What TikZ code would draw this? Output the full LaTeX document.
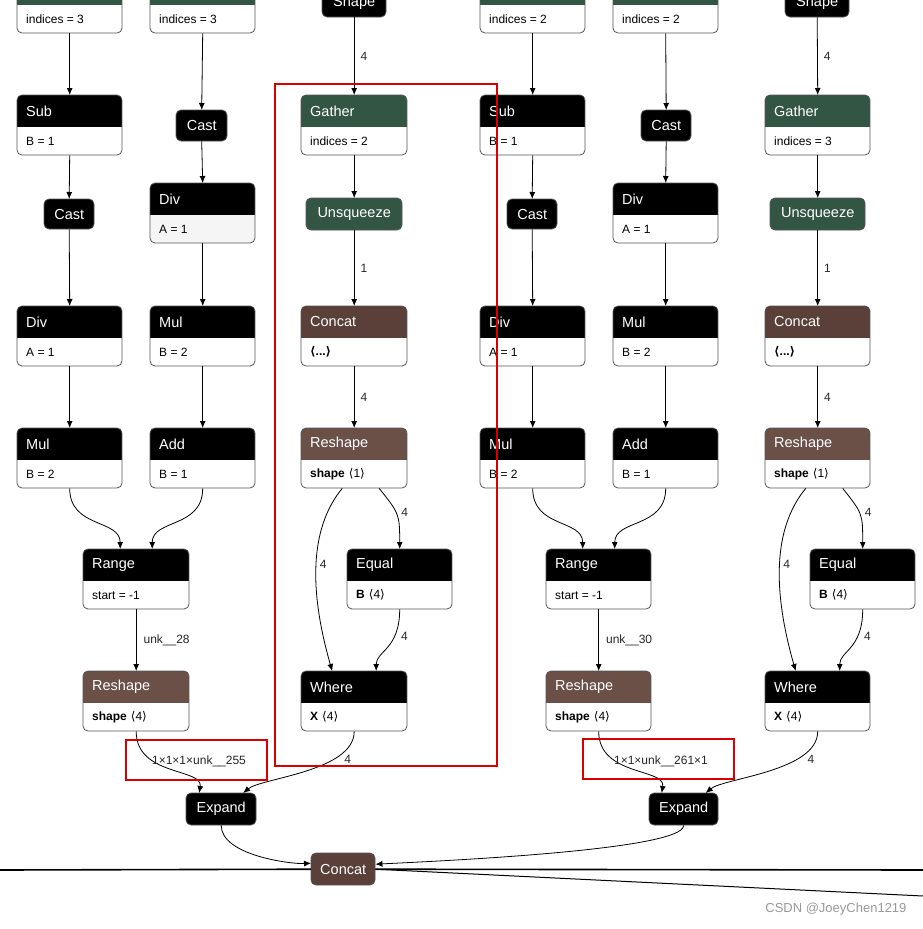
\documentclass[tikz,border=0pt]{standalone}
\usepackage{fontspec}
\setmainfont{Liberation Sans}
\newfontfamily\djv{DejaVu Sans}
\usetikzlibrary{arrows.meta}
\definecolor{ngreen}{HTML}{335544}
\definecolor{nbrown}{HTML}{6B5048}
\definecolor{cbrown}{HTML}{5A4039}
\definecolor{nedge}{HTML}{555555}
\newcommand{\la}{{\djv ⟨}}
\newcommand{\ra}{{\djv ⟩}}
\tikzset{
  ttl/.style={font=\fontsize{14.5}{16}\selectfont,text=white,anchor=west,inner sep=0},
  bdy/.style={font=\fontsize{12}{14}\selectfont,anchor=west,inner sep=0},
  arr/.style={-{Latex[length=7pt,width=6pt]},line width=0.8pt},
  lbl/.style={font=\fontsize{12}{14}\selectfont,text=black!85,inner sep=1pt},
  redbox/.style={draw=red!85!black,line width=1.2pt},
}
% name, xleft, ytop, width, color, title, body, bodyfill
\newcommand{\nnode}[8]{%
  \begin{scope}
    \clip[rounded corners=5] (#2,#3) rectangle (#2+#4,#3+60);
    \fill[#8] (#2,#3) rectangle (#2+#4,#3+60);
    \fill[#5] (#2,#3) rectangle (#2+#4,#3+32);
  \end{scope}
  \draw[nedge,line width=0.8pt,rounded corners=5] (#2,#3) rectangle (#2+#4,#3+60);
  \node[inner sep=0,minimum width=#4pt,minimum height=60pt,anchor=north west] (#1) at (#2,#3) {};
  \node[ttl] at (#2+9,#3+16) {#6};
  \node[bdy] at (#2+9,#3+46) {#7};
}
% small node: name, xleft, ytop, width, height, color, title
\newcommand{\snode}[7]{%
  \fill[#6,rounded corners=5] (#2,#3) rectangle (#2+#4,#3+#5);
  \draw[nedge,line width=0.8pt,rounded corners=5] (#2,#3) rectangle (#2+#4,#3+#5);
  \node[inner sep=0,minimum width=#4pt,minimum height=#5pt,anchor=north west] (#1) at (#2,#3) {};
  \node[ttl,anchor=center] at (#1.center) {#7};
}
\begin{document}
\begin{tikzpicture}[x=1pt,y=-1pt]
\useasboundingbox (0,0) rectangle (923,929);
\clip (0,0) rectangle (923,929);
\fill[white] (0,0) rectangle (923,929);

% column 1
\nnode{ga1}{17}{-27}{105}{ngreen}{Gather}{indices = 3}{white}
\nnode{sub1}{17}{95}{105}{black}{Sub}{B = 1}{white}
\snode{cast1}{44}{199}{50}{30}{black}{Cast}
\nnode{div1}{17}{306}{105}{black}{Div}{A = 1}{white}
\nnode{mul1}{17}{428}{105}{black}{Mul}{B = 2}{white}
% column 2
\nnode{ga2}{150}{-27}{105}{ngreen}{Gather}{indices = 3}{white}
\snode{cast2}{176}{110}{51}{31}{black}{Cast}
\nnode{div2}{150}{183}{105}{black}{Div}{A = 1}{black!4}
\nnode{mul2}{150}{306}{105}{black}{Mul}{B = 2}{white}
\nnode{add1}{150}{428}{105}{black}{Add}{B = 1}{white}
\nnode{range1}{83}{549}{106}{black}{Range}{start = -1}{white}
\nnode{resh1}{83}{671}{106}{nbrown}{Reshape}{\textbf{shape}\,\,\la 4\ra}{white}
\snode{exp1}{186}{793}{70}{32}{black}{Expand}
% column 3
\snode{shape1}{322}{-12}{64}{29}{black}{Shape}
\nnode{gat3}{301}{95}{106}{ngreen}{Gather}{indices = 2}{white}
\snode{unsq1}{306}{198}{96}{32}{ngreen}{Unsqueeze}
\nnode{cc1}{301}{306}{106}{cbrown}{Concat}{\textbf{\la...\ra}}{white}
\nnode{rs3}{301}{428}{106}{nbrown}{Reshape}{\textbf{shape}\,\,\la 1\ra}{white}
\nnode{eq1}{347}{549}{105}{black}{Equal}{\textbf{B}\,\,\la 4\ra}{white}
\nnode{wh1}{301}{671}{106}{black}{Where}{\textbf{X}\,\,\la 4\ra}{white}
% column 4
\nnode{ga4}{480}{-27}{105}{ngreen}{Gather}{indices = 2}{white}
\nnode{sub2}{480}{95}{105}{black}{Sub}{B = 1}{white}
\snode{cast3}{507}{199}{50}{30}{black}{Cast}
\nnode{div3}{480}{306}{105}{black}{Div}{A = 1}{white}
\nnode{mul3}{480}{428}{105}{black}{Mul}{B = 2}{white}
% column 5
\nnode{ga5}{613}{-27}{105}{ngreen}{Gather}{indices = 2}{white}
\snode{cast4}{641}{110}{50}{31}{black}{Cast}
\nnode{div4}{613}{183}{105}{black}{Div}{A = 1}{white}
\nnode{mul4}{613}{306}{105}{black}{Mul}{B = 2}{white}
\nnode{add2}{613}{428}{105}{black}{Add}{B = 1}{white}
\nnode{range2}{546}{549}{105}{black}{Range}{start = -1}{white}
\nnode{resh2}{546}{671}{105}{nbrown}{Reshape}{\textbf{shape}\,\,\la 4\ra}{white}
\snode{exp2}{649}{793}{69}{32}{black}{Expand}
% column 6
\snode{shape2}{785}{-12}{64}{29}{black}{Shape}
\nnode{gat6}{765}{95}{105}{ngreen}{Gather}{indices = 3}{white}
\snode{unsq2}{770}{198}{95}{32}{ngreen}{Unsqueeze}
\nnode{cc2}{765}{306}{105}{cbrown}{Concat}{\textbf{\la...\ra}}{white}
\nnode{rs6}{765}{428}{105}{nbrown}{Reshape}{\textbf{shape}\,\,\la 1\ra}{white}
\nnode{eq2}{810}{549}{105}{black}{Equal}{\textbf{B}\,\,\la 4\ra}{white}
\nnode{wh2}{765}{671}{105}{black}{Where}{\textbf{X}\,\,\la 4\ra}{white}
% bottom concat
\snode{ccb}{311}{853}{64}{32}{cbrown}{Concat}
\coordinate (lin) at (0,870);
\coordinate (rout1) at (923,870);
\coordinate (rout2) at (923,896);

% edges col1
\draw[arr] (ga1.south) -- (sub1.north);
\draw[arr] (sub1.south) -- (cast1.north);
\draw[arr] (cast1.south) -- (div1.north);
\draw[arr] (div1.south) -- (mul1.north);
\draw[arr] (ga2.south) -- (cast2.north);
\draw[arr] (cast2.south) -- (div2.north);
\draw[arr] (div2.south) -- (mul2.north);
\draw[arr] (mul2.south) -- (add1.north);
\draw[arr] (mul1.south) .. controls ([yshift=-40]mul1.south) and ([xshift=-16,yshift=30]range1.north) .. ([xshift=-16]range1.north);
\draw[arr] (add1.south) .. controls ([yshift=-40]add1.south) and ([xshift=16,yshift=30]range1.north) .. ([xshift=16]range1.north);
\draw[arr] (range1.south) -- node[lbl,right,xshift=6pt]{unk\_\_28} (resh1.north);
\draw[arr] (resh1.south) .. controls ([yshift=-45]resh1.south) and ([xshift=-18,yshift=25]exp1.north) .. ([xshift=-22]exp1.north);
% col3
\draw[arr] (shape1.south) -- node[lbl,right,xshift=5pt]{4} (gat3.north);
\draw[arr] (gat3.south) -- (unsq1.north);
\draw[arr] (unsq1.south) -- node[lbl,right,xshift=5pt]{1} (cc1.north);
\draw[arr] (cc1.south) -- node[lbl,right,xshift=5pt]{4} (rs3.north);
\draw[arr] ([xshift=25]rs3.south) .. controls ([xshift=45,yshift=-25]rs3.south) and ([yshift=35]eq1.north) .. node[lbl,right,pos=0.45,xshift=4pt]{4} (eq1.north);
\draw[arr] ([xshift=-12]rs3.south) .. controls ([xshift=-45,yshift=-40]rs3.south) and ([xshift=-45,yshift=80]wh1.north) .. node[lbl,pos=0.5,xshift=7pt]{4} ([xshift=-22]wh1.north);
\draw[arr] (eq1.south) .. controls ([yshift=-40]eq1.south) and ([xshift=22,yshift=20]wh1.north) .. node[lbl,right,pos=0.3,xshift=5pt]{4} ([xshift=22]wh1.north);
\draw[arr] (wh1.south) .. controls ([yshift=-40]wh1.south) and ([xshift=40,yshift=15]exp1.north) .. node[lbl,pos=0.3,xshift=14pt]{4} ([xshift=22]exp1.north);
% col4/5
\draw[arr] (ga4.south) -- (sub2.north);
\draw[arr] (sub2.south) -- (cast3.north);
\draw[arr] (cast3.south) -- (div3.north);
\draw[arr] (div3.south) -- (mul3.north);
\draw[arr] (ga5.south) -- (cast4.north);
\draw[arr] (cast4.south) -- (div4.north);
\draw[arr] (div4.south) -- (mul4.north);
\draw[arr] (mul4.south) -- (add2.north);
\draw[arr] (mul3.south) .. controls ([yshift=-40]mul3.south) and ([xshift=-16,yshift=30]range2.north) .. ([xshift=-16]range2.north);
\draw[arr] (add2.south) .. controls ([yshift=-40]add2.south) and ([xshift=16,yshift=30]range2.north) .. ([xshift=16]range2.north);
\draw[arr] (range2.south) -- node[lbl,right,xshift=6pt]{unk\_\_30} (resh2.north);
\draw[arr] (resh2.south) .. controls ([yshift=-45]resh2.south) and ([xshift=-18,yshift=25]exp2.north) .. ([xshift=-22]exp2.north);
% col6
\draw[arr] (shape2.south) -- node[lbl,right,xshift=5pt]{4} (gat6.north);
\draw[arr] (gat6.south) -- (unsq2.north);
\draw[arr] (unsq2.south) -- node[lbl,right,xshift=5pt]{1} (cc2.north);
\draw[arr] (cc2.south) -- node[lbl,right,xshift=5pt]{4} (rs6.north);
\draw[arr] ([xshift=25]rs6.south) .. controls ([xshift=45,yshift=-25]rs6.south) and ([yshift=35]eq2.north) .. node[lbl,right,pos=0.45,xshift=4pt]{4} (eq2.north);
\draw[arr] ([xshift=-12]rs6.south) .. controls ([xshift=-45,yshift=-40]rs6.south) and ([xshift=-45,yshift=80]wh2.north) .. node[lbl,pos=0.5,xshift=7pt]{4} ([xshift=-22]wh2.north);
\draw[arr] (eq2.south) .. controls ([yshift=-40]eq2.south) and ([xshift=22,yshift=20]wh2.north) .. node[lbl,right,pos=0.3,xshift=5pt]{4} ([xshift=22]wh2.north);
\draw[arr] (wh2.south) .. controls ([yshift=-40]wh2.south) and ([xshift=40,yshift=15]exp2.north) .. node[lbl,pos=0.3,xshift=14pt]{4} ([xshift=22]exp2.north);
% bottom
\draw[arr] (exp1.south) .. controls ([yshift=-30]exp1.south) and ([xshift=-20,yshift=5]ccb.west) .. ([yshift=6]ccb.west);
\draw[arr] (exp2.south) .. controls ([yshift=-25]exp2.south) and ([xshift=60,yshift=8]ccb.east) .. ([yshift=5]ccb.east);
\draw[line width=1.6pt] (lin) -- (ccb.west);
\draw[line width=1.6pt] (ccb.east) -- (rout1);
\draw[line width=1pt] (ccb.east) -- (rout2);

% shape labels
\node[lbl] (lab1) at (199,761) {1×1×1×unk\_\_255};
\node[lbl] (lab2) at (661,761) {1×1×unk\_\_261×1};
% red boxes
\draw[redbox] (126,740) rectangle (267,780);
\draw[redbox] (583,739) rectangle (734,779);
\draw[redbox] (275,84) rectangle (497,766);
\node[text=black!40,font=\fontsize{13}{15}\selectfont,anchor=east] (wm) at (910,909) {CSDN @JoeyChen1219};
\end{tikzpicture}
\end{document}
